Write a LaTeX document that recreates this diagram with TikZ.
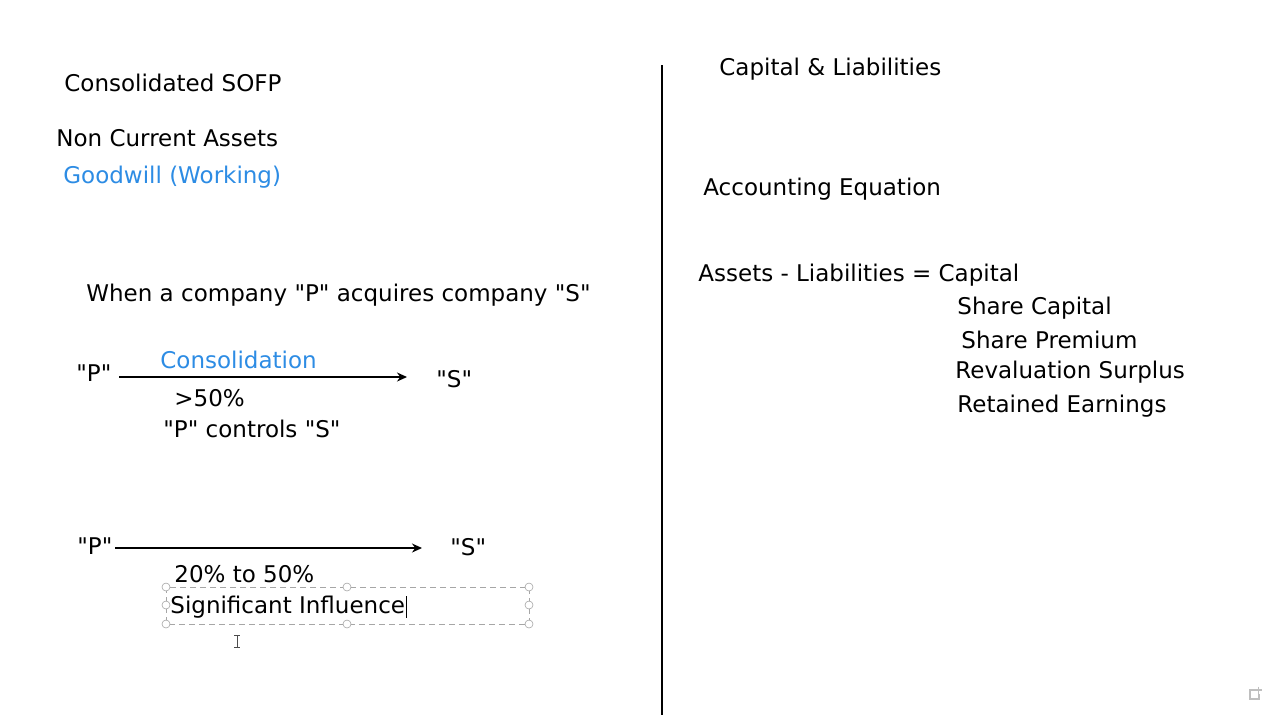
\documentclass[tikz,border=0pt]{standalone}
\usepackage{fontspec}
\setmainfont{DejaVu Sans}
\usepackage{xcolor}
\usepackage{tikz}
\usetikzlibrary{arrows.meta}

\newcommand{\qq}{\textquotedbl}
\definecolor{linkblue}{RGB}{45,140,228}
\tikzset{
  lbl/.style={anchor=west,inner sep=0pt,font=\fontsize{11.5}{14}\selectfont},
  arr/.style={-{Stealth[length=5pt,width=4.5pt]},line width=0.7pt},
  handle/.style={circle,draw=gray!70,fill=white,line width=0.3pt,minimum size=4pt,inner sep=0pt}
}

\begin{document}
\begin{tikzpicture}[x=0.5pt,y=-0.5pt]
\useasboundingbox (0,0) rectangle (1280,720);

% Divider
\draw[line width=0.8pt] (662,65) -- (662,715);

% Left column headings
\node[lbl] (sofp) at (64,83) {Consolidated SOFP};
\node[lbl] (nca) at (56,138) {Non Current Assets};
\node[lbl,text=linkblue] (gw) at (63,177) {Goodwill (Working)};
\node[lbl] (when) at (86,295) {When a company \qq P\qq{} acquires company \qq S\qq};

% Control (>50%)
\node[lbl] (p1) at (76,373) {\qq P\qq};
\node[lbl] (s1) at (436,379) {\qq S\qq};
\coordinate (a1) at (119,377);
\coordinate (b1) at (407,377);
\draw[arr] (a1) -- (b1);
\node[lbl,text=linkblue] (cons) at (160,360) {Consolidation};
\node[lbl] (over) at (174,398) {>50\%};
\node[lbl] (ctrl) at (163,429) {\qq P\qq{} controls \qq S\qq};

% Significant influence (20% to 50%)
\node[lbl] (p2) at (77,546) {\qq P\qq};
\node[lbl] (s2) at (450,547) {\qq S\qq};
\coordinate (a2) at (115,548);
\coordinate (b2) at (422,548);
\draw[arr] (a2) -- (b2);
\node[lbl] (range) at (174,574) {20\% to 50\%};
\node[lbl] (sig) at (170,607) {Significant Influence};

% Selected text box
\draw[gray!70,densely dashed,line width=0.3pt] (166,587) rectangle (529,624);
\foreach \x in {166,347,529} {
  \node[handle] at (\x,587) {};
  \node[handle] at (\x,624) {};
}
\node[handle] at (166,605) {};
\node[handle] at (529,605) {};
\draw[line width=0.5pt] (sig.east) ++(1,-11) -- ++(0,22);

% Mouse cursor
\draw[line width=0.4pt,gray!60!black] (237,635) -- (237,647) (234,635) -- (240,635) (234,647) -- (240,647);

% Right column
\node[lbl] (cl) at (719,69) {Capital \& Liabilities};
\node[lbl] (ae) at (703,189) {Accounting Equation};
\node[lbl] (eq) at (698,275) {Assets - Liabilities = Capital};
\node[lbl] (sc) at (957,308) {Share Capital};
\node[lbl] (sp) at (961,340) {Share Premium};
\node[lbl] (rs) at (955,372) {Revaluation Surplus};
\node[lbl] (re) at (957,406) {Retained Earnings};

% Corner icon
\draw[gray!50,line width=0.6pt] (1255,690) -- (1250,690) -- (1250,699) -- (1259,699) -- (1259,694);
\draw[gray!50,line width=0.6pt] (1255,690) -- (1262,690) (1258.5,686.5) -- (1258.5,693.5);
\end{tikzpicture}
\end{document}
